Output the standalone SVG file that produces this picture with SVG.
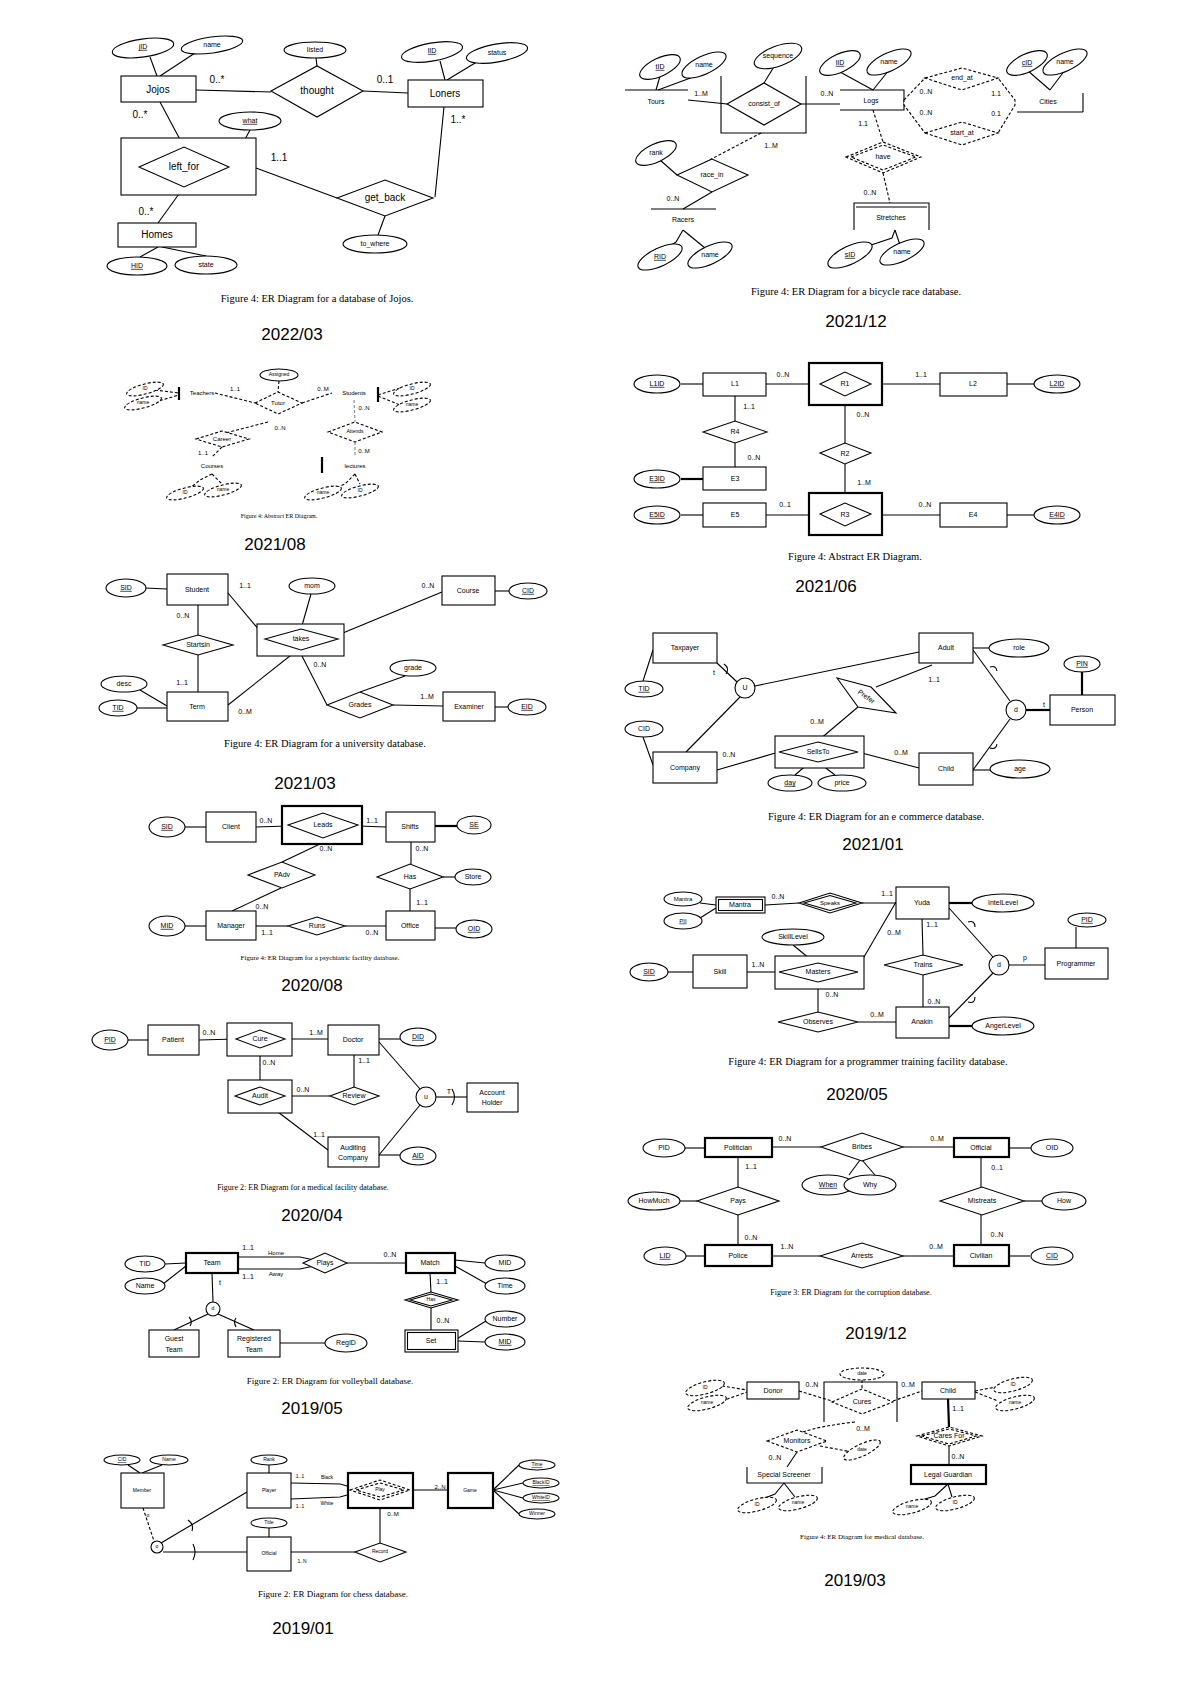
<svg xmlns="http://www.w3.org/2000/svg" width="1200" height="1699" viewBox="0 0 1200 1699">
<style>
rect,ellipse,polygon,circle{fill:#fff;stroke:#000;stroke-width:1.1}
.b{stroke-width:2.2}
.d{stroke-dasharray:3 2}
line,polyline,path{stroke:#000;stroke-width:1.1;fill:none}
text{font-family:"Liberation Sans",Arial,sans-serif;font-size:7px;text-anchor:middle;dominant-baseline:middle;fill:#000}
.m{font-size:10px}
.c{font-family:"Liberation Serif","Times New Roman",serif;font-size:10.5px}
.y{font-size:17px}
.u{text-decoration:underline}
</style>
<rect x="0" y="0" width="1200" height="1699" style="stroke:none"/>

<!-- ===== 2022/03 ===== -->
<g id="conn1">
<line x1="150" y1="57" x2="157" y2="76"/><line x1="195" y1="53" x2="160" y2="76"/>
<line x1="196" y1="90" x2="271" y2="92"/><line x1="363" y1="91" x2="408" y2="93"/>
<line x1="316" y1="58" x2="317" y2="66"/>
<line x1="440" y1="61" x2="445" y2="80"/><line x1="480" y1="60" x2="447" y2="80"/>
<line x1="160" y1="102" x2="184" y2="147"/><line x1="250" y1="130" x2="230" y2="167"/>
<line x1="184" y1="187" x2="158" y2="223"/>
<line x1="158" y1="247" x2="140" y2="257"/><line x1="162" y1="247" x2="206" y2="256"/>
<line x1="256" y1="168" x2="337" y2="198"/><line x1="444" y1="107" x2="435" y2="197"/>
<line x1="385" y1="216" x2="378" y2="235"/>
</g>
<g id="jojos"><rect x="121" y="76" width="75" height="26"/><text class="m" x="158" y="90">Jojos</text></g>
<g id="jid"><ellipse cx="143" cy="48" rx="31" ry="9" transform="rotate(-8 143 48)"/><text class="u" x="143" y="47">jID</text></g>
<g id="jname"><ellipse cx="212" cy="45" rx="31" ry="8" transform="rotate(-8 212 45)"/><text x="212" y="45">name</text></g>
<g id="thought"><polygon points="271,91 317,66 363,91 317,117"/><text class="m" x="317" y="91">thought</text></g>
<g id="listed"><ellipse cx="315" cy="50" rx="31" ry="8"/><text x="315" y="50">listed</text></g>
<g id="loners"><rect x="408" y="80" width="75" height="27"/><text class="m" x="445" y="94">Loners</text></g>
<g id="lid"><ellipse cx="432" cy="52" rx="31" ry="9" transform="rotate(-10 432 52)"/><text class="u" x="432" y="51">lID</text></g>
<g id="lstatus"><ellipse cx="497" cy="53" rx="31" ry="9" transform="rotate(-10 497 53)"/><text x="497" y="53">status</text></g>
<g id="leftfor"><rect x="121" y="138" width="135" height="57"/><polygon points="139,167 184,147 229,167 184,187"/><text class="m" x="184" y="167">left_for</text></g>
<g id="what"><ellipse cx="250" cy="121" rx="31" ry="9"/><text class="u" x="250" y="121">what</text></g>
<g id="homes"><rect x="118" y="223" width="78" height="24"/><text class="m" x="157" y="235">Homes</text></g>
<g id="hid"><ellipse cx="137" cy="266" rx="30" ry="9"/><text class="u" x="137" y="266">HID</text></g>
<g id="hstate"><ellipse cx="206" cy="265" rx="31" ry="9"/><text x="206" y="265">state</text></g>
<g id="getback"><polygon points="337,198 385,180 433,198 385,216"/><text class="m" x="385" y="198">get_back</text></g>
<g id="towhere"><ellipse cx="375" cy="244" rx="32" ry="9"/><text x="375" y="244">to_where</text></g>
<text class="m" x="217" y="80">0..*</text><text class="m" x="385" y="80">0..1</text>
<text class="m" x="140" y="115">0..*</text><text class="m" x="279" y="158">1..1</text>
<text class="m" x="146" y="212">0..*</text><text class="m" x="458" y="120">1..*</text>
<text class="c" x="317" y="300">Figure 4: ER Diagram for a database of Jojos.</text>
<text class="y" x="292" y="336">2022/03</text>

<!-- ===== 2021/12 ===== -->
<g id="conn2">
<line x1="625" y1="90" x2="688" y2="90"/>
<line x1="688" y1="100" x2="727" y2="104"/><line x1="801" y1="104" x2="840" y2="104"/>
<line x1="775" y1="65" x2="764" y2="83"/>
<line x1="660" y1="76" x2="656" y2="90"/><line x1="704" y1="73" x2="658" y2="90"/>
<line x1="840" y1="72" x2="873" y2="90"/><line x1="889" y1="70" x2="873" y2="90"/>
<line x1="1027" y1="70" x2="1050" y2="90"/><line x1="1065" y1="70" x2="1050" y2="90"/>
<line x1="761" y1="133" x2="700" y2="165" class="d"/>
<line x1="660" y1="160" x2="677" y2="175"/>
<line x1="712" y1="192" x2="683" y2="209"/>
<line x1="651" y1="209" x2="716" y2="209"/>
<polyline points="683,230 676,242 660,252"/><line x1="683" y1="230" x2="705" y2="248"/>
<line x1="873" y1="110" x2="883" y2="142" class="d"/><line x1="883" y1="173" x2="890" y2="203" class="d"/>
<polyline points="895,230 892,238 856,250"/><line x1="895" y1="230" x2="900" y2="245"/>
<line x1="1017" y1="112" x2="1083" y2="112"/><line x1="1083" y1="93" x2="1083" y2="112"/>
</g>
<g id="tours"><text x="656" y="102">Tours</text></g>
<g id="tid2"><ellipse cx="660" cy="67" rx="22" ry="9" transform="rotate(-25 660 67)"/><text class="u" x="660" y="67">tID</text></g>
<g id="tname"><ellipse cx="704" cy="65" rx="24" ry="9" transform="rotate(-25 704 65)"/><text x="704" y="65">name</text></g>
<g id="consistof"><path d="M721,76 V133 H806 V76"/><polygon points="727,104 764,83 801,104 764,125"/><text x="764" y="104">consist_of</text></g>
<g id="sequence"><ellipse cx="778" cy="56" rx="25" ry="10" transform="rotate(-20 778 56)"/><text x="778" y="56">sequence</text></g>
<g id="logs"><path d="M840,90 H904 V110 H840"/><text x="871" y="101">Logs</text></g>
<g id="logid"><ellipse cx="840" cy="63" rx="22" ry="9" transform="rotate(-25 840 63)"/><text class="u" x="840" y="63">lID</text></g>
<g id="logname"><ellipse cx="889" cy="62" rx="24" ry="9" transform="rotate(-25 889 62)"/><text x="889" y="62">name</text></g>
<g id="endstart" class="d"><polygon class="d" points="904,100 925,78 998,78 1015,100 1015,105 998,133 925,133 904,105"/><polygon class="d" points="925,78 962,68 998,78 962,90"/><polygon class="d" points="925,133 962,122 998,133 962,145"/><text x="962" y="78">end_at</text><text x="962" y="133">start_at</text></g>
<g id="cities"><text x="1048" y="102">Cities</text></g>
<g id="cid2"><ellipse cx="1027" cy="63" rx="22" ry="9" transform="rotate(-25 1027 63)"/><text class="u" x="1027" y="63">cID</text></g>
<g id="cname"><ellipse cx="1065" cy="62" rx="24" ry="9" transform="rotate(-25 1065 62)"/><text x="1065" y="62">name</text></g>
<g id="racein"><polygon points="677,175 712,159 748,175 712,192"/><text x="712" y="175">race_in</text></g>
<g id="rank"><ellipse cx="656" cy="153" rx="22" ry="9" transform="rotate(-25 656 153)"/><text x="656" y="153">rank</text></g>
<g id="racers"><text x="683" y="220">Racers</text></g>
<g id="rid"><ellipse cx="660" cy="257" rx="24" ry="9" transform="rotate(-25 660 257)"/><text class="u" x="660" y="257">RID</text></g>
<g id="rname"><ellipse cx="710" cy="255" rx="24" ry="9" transform="rotate(-25 710 255)"/><text x="710" y="255">name</text></g>
<g id="have"><polygon class="d" points="846,157 883,142 921,157 883,173"/><polygon class="d" points="851,157 883,145 916,157 883,170"/><text x="883" y="157">have</text></g>
<g id="stretches"><path d="M854,230 V203 H929 V230 M856,207 H927"/><text x="891" y="218">Stretches</text></g>
<g id="sid2"><ellipse cx="850" cy="255" rx="24" ry="9" transform="rotate(-25 850 255)"/><text class="u" x="850" y="255">sID</text></g>
<g id="sname"><ellipse cx="902" cy="252" rx="24" ry="9" transform="rotate(-25 902 252)"/><text x="902" y="252">name</text></g>
<text x="701" y="94">1..M</text><text x="827" y="94">0..N</text><text x="926" y="92">0..N</text><text x="926" y="113">0..N</text>
<text x="996" y="94">1.1</text><text x="996" y="114">0.1</text><text x="771" y="146">1..M</text><text x="863" y="124">1.1</text>
<text x="673" y="199">0..N</text><text x="870" y="193">0..N</text>
<text class="c" x="856" y="293">Figure 4: ER Diagram for a bicycle race database.</text>
<text class="y" x="856" y="323">2021/12</text>

<!-- ===== 2021/08 ===== -->
<g id="conn3" class="d">
<line class="d" x1="155" y1="390" x2="179" y2="393"/><line class="d" x1="155" y1="402" x2="179" y2="395"/>
<line class="d" x1="215" y1="393" x2="255" y2="403"/><line class="d" x1="302" y1="403" x2="332" y2="393"/>
<line x1="279" y1="381" x2="278" y2="392"/>
<line x1="378" y1="395" x2="400" y2="388"/><line x1="378" y1="396" x2="400" y2="405"/>
<line x1="354" y1="400" x2="355" y2="422" style="stroke:#888"/><line x1="355" y1="442" x2="355" y2="455" style="stroke:#888"/>
<line class="d" x1="268" y1="422" x2="222" y2="434"/><line x1="222" y1="447" x2="212" y2="457"/>
<polyline points="212,474 200,480 190,488"/><line x1="212" y1="474" x2="222" y2="484"/>
<polyline points="355,474 345,484 330,490"/><line x1="355" y1="474" x2="360" y2="484"/>
</g>
<line x1="179" y1="387" x2="179" y2="400" class="b"/><line x1="378" y1="387" x2="378" y2="402" class="b"/><line x1="322" y1="457" x2="322" y2="473" class="b"/>
<g id="teachers"><text x="202" y="393" style="font-size:6px">Teachers</text></g>
<g id="t8a"><ellipse class="d" cx="145" cy="389" rx="19" ry="5" transform="rotate(-15 145 389)"/><text x="145" y="389" style="font-size:5px">ID</text></g>
<g id="t8b"><ellipse class="d" cx="143" cy="403" rx="19" ry="5" transform="rotate(-15 143 403)"/><text x="143" y="403" style="font-size:5px">name</text></g>
<g id="tutor"><polygon class="d" points="255,403 278,392 302,403 278,414"/><text x="278" y="403" style="font-size:6px">Tutor</text></g>
<g id="assigned"><ellipse cx="279" cy="375" rx="19" ry="6"/><text x="279" y="375" style="font-size:5px">Assigned</text></g>
<g id="students"><text x="354" y="393" style="font-size:6px">Students</text></g>
<g id="s8a"><ellipse class="d" cx="412" cy="389" rx="19" ry="5" transform="rotate(-15 412 389)"/><text x="412" y="389" style="font-size:5px">ID</text></g>
<g id="s8b"><ellipse class="d" cx="412" cy="405" rx="19" ry="5" transform="rotate(-15 412 405)"/><text x="412" y="405" style="font-size:5px">name</text></g>
<g id="attends"><polygon class="d" points="328,432 355,422 382,432 355,442"/><text x="355" y="432" style="font-size:5px">Attends</text></g>
<g id="lectures8"><text x="355" y="466" style="font-size:6px">lectures</text></g>
<g id="l8a"><ellipse class="d" cx="323" cy="493" rx="19" ry="5" transform="rotate(-15 323 493)"/><text x="323" y="493" style="font-size:5px">name</text></g>
<g id="l8b"><ellipse class="d" cx="360" cy="491" rx="19" ry="5" transform="rotate(-15 360 491)"/><text x="360" y="491" style="font-size:5px">ID</text></g>
<g id="career"><polygon class="d" points="196,439 222,431 249,439 222,447"/><text x="222" y="439" style="font-size:6px">Career</text></g>
<g id="courses8"><text x="212" y="466" style="font-size:6px">Courses</text></g>
<g id="c8a"><ellipse class="d" cx="185" cy="493" rx="19" ry="5" transform="rotate(-15 185 493)"/><text x="185" y="493" style="font-size:5px">ID</text></g>
<g id="c8b"><ellipse class="d" cx="223" cy="490" rx="19" ry="5" transform="rotate(-15 223 490)"/><text x="223" y="490" style="font-size:5px">name</text></g>
<g style="font-size:6px"><text x="235" y="389" style="font-size:6px">1..1</text><text x="323" y="389" style="font-size:6px">0..M</text><text x="364" y="408" style="font-size:6px">0..N</text><text x="364" y="451" style="font-size:6px">0..M</text><text x="280" y="428" style="font-size:6px">0..N</text><text x="203" y="453" style="font-size:6px">1..1</text></g>
<text class="c" x="279" y="517" style="font-size:6px">Figure 4: Abstract ER Diagram.</text>
<text class="y" x="275" y="546">2021/08</text>

<!-- ===== 2021/03 ===== -->
<g id="conn4">
<line x1="145" y1="588" x2="167" y2="589"/><line x1="228" y1="593" x2="265" y2="637"/>
<line x1="311" y1="594" x2="301" y2="629"/><line x1="442" y1="592" x2="338" y2="635"/>
<line x1="495" y1="591" x2="509" y2="591"/>
<line x1="198" y1="605" x2="198" y2="635"/><line x1="198" y1="655" x2="198" y2="692"/>
<line x1="140" y1="690" x2="167" y2="706"/><line x1="137" y1="708" x2="167" y2="708"/>
<line x1="228" y1="705" x2="300" y2="648"/><line x1="302" y1="656" x2="327" y2="705"/>
<line x1="360" y1="692" x2="405" y2="676"/><line x1="393" y1="705" x2="443" y2="706"/><line x1="495" y1="707" x2="508" y2="707"/>
</g>
<g id="student"><rect x="167" y="574" width="61" height="31"/><text x="197" y="590">Student</text></g>
<g id="sid4"><ellipse cx="126" cy="588" rx="20" ry="9"/><text class="u" x="126" y="588">SID</text></g>
<g id="takes"><rect x="257" y="624" width="87" height="32"/><polygon points="265,639 301,629 338,639 301,650"/><text x="301" y="639">takes</text></g>
<g id="mom"><ellipse cx="312" cy="586" rx="23" ry="8"/><text x="312" y="586">mom</text></g>
<g id="course"><rect x="442" y="576" width="53" height="29"/><text x="468" y="591">Course</text></g>
<g id="cid4"><ellipse cx="528" cy="591" rx="19" ry="8"/><text class="u" x="528" y="591">CID</text></g>
<g id="startsin"><polygon points="163,645 198,635 233,645 198,655"/><text x="198" y="645">Startsin</text></g>
<g id="term"><rect x="167" y="692" width="61" height="29"/><text x="197" y="707">Term</text></g>
<g id="desc"><ellipse cx="124" cy="684" rx="23" ry="8"/><text x="124" y="684">desc</text></g>
<g id="tid4"><ellipse cx="118" cy="708" rx="19" ry="8"/><text class="u" x="118" y="708">TID</text></g>
<g id="grades"><polygon points="327,705 360,692 393,705 360,718"/><text x="360" y="705">Grades</text></g>
<g id="grade"><ellipse cx="413" cy="668" rx="23" ry="8"/><text x="413" y="668">grade</text></g>
<g id="examiner"><rect x="443" y="692" width="52" height="29"/><text x="469" y="707">Examiner</text></g>
<g id="eid4"><ellipse cx="527" cy="707" rx="19" ry="8"/><text class="u" x="527" y="707">EID</text></g>
<text x="245" y="586">1..1</text><text x="428" y="586">0..N</text><text x="183" y="616">0..N</text><text x="182" y="683">1..1</text><text x="245" y="712">0..M</text><text x="320" y="665">0..N</text><text x="427" y="697">1..M</text>
<text class="c" x="325" y="745">Figure 4: ER Diagram for a university database.</text>
<text class="y" x="305" y="785">2021/03</text>

<!-- ===== 2021/06 ===== -->
<g id="conn5">
<line x1="681" y1="384" x2="703" y2="384"/><line x1="766" y1="384" x2="820" y2="384"/><line x1="871" y1="384" x2="940" y2="384"/><line x1="1007" y1="384" x2="1034" y2="384"/>
<line x1="735" y1="396" x2="735" y2="421"/><line x1="735" y1="443" x2="735" y2="467"/>
<line x1="681" y1="479" x2="703" y2="479" class="b"/>
<line x1="845" y1="405" x2="845" y2="443"/><line x1="845" y1="464" x2="845" y2="493"/>
<line x1="681" y1="515" x2="703" y2="515"/><line x1="766" y1="515" x2="820" y2="515"/><line x1="871" y1="515" x2="940" y2="515"/><line x1="1007" y1="515" x2="1034" y2="515"/>
</g>
<g id="l1id"><ellipse cx="657" cy="384" rx="23" ry="9"/><text class="u" x="657" y="384">L1ID</text></g>
<g id="l1"><rect x="703" y="373" width="63" height="23"/><text x="735" y="384">L1</text></g>
<g id="r1"><rect class="b" x="809" y="363" width="73" height="42"/><polygon points="820,384 845,372 871,384 845,396"/><text x="845" y="384">R1</text></g>
<g id="l2"><rect x="940" y="373" width="67" height="23"/><text x="973" y="384">L2</text></g>
<g id="l2id"><ellipse cx="1057" cy="384" rx="23" ry="9"/><text class="u" x="1057" y="384">L2ID</text></g>
<g id="r4"><polygon points="703,432 735,421 767,432 735,443"/><text x="735" y="432">R4</text></g>
<g id="e3"><rect x="703" y="467" width="63" height="23"/><text x="735" y="479">E3</text></g>
<g id="e3id"><ellipse cx="657" cy="479" rx="23" ry="9"/><text class="u" x="657" y="479">E3ID</text></g>
<g id="r2"><polygon points="820,453 845,443 871,453 845,464"/><text x="845" y="454">R2</text></g>
<g id="r3"><rect class="b" x="809" y="493" width="73" height="42"/><polygon points="820,514 845,503 871,514 845,526"/><text x="845" y="515">R3</text></g>
<g id="e5"><rect x="703" y="503" width="63" height="24"/><text x="735" y="515">E5</text></g>
<g id="e5id"><ellipse cx="657" cy="515" rx="23" ry="9"/><text class="u" x="657" y="515">E5ID</text></g>
<g id="e4"><rect x="940" y="503" width="67" height="24"/><text x="973" y="515">E4</text></g>
<g id="e4id"><ellipse cx="1057" cy="515" rx="23" ry="9"/><text class="u" x="1057" y="515">E4ID</text></g>
<text x="783" y="375">0..N</text><text x="921" y="375">1..1</text><text x="749" y="407">1..1</text><text x="754" y="458">0..N</text><text x="863" y="415">0..N</text><text x="864" y="483">1..M</text><text x="785" y="505">0..1</text><text x="925" y="505">0..N</text>
<text class="c" x="855" y="558">Figure 4: Abstract ER Diagram.</text>
<text class="y" x="826" y="588">2021/06</text>

<!-- ===== 2021/01 ===== -->
<g id="conn6">
<line x1="653" y1="650" x2="643" y2="681"/><line x1="717" y1="663" x2="737" y2="682"/><path d="M724,664 q6,4 2,10"/>
<line x1="755" y1="686" x2="919" y2="652"/><line x1="740" y1="697" x2="686" y2="752"/>
<line x1="643" y1="737" x2="653" y2="765"/><line x1="973" y1="648" x2="989" y2="648"/>
<line x1="876" y1="687" x2="932" y2="665"/><line x1="858" y1="707" x2="819" y2="740"/>
<line x1="717" y1="770" x2="779" y2="752"/><line x1="858" y1="752" x2="919" y2="768"/>
<line x1="973" y1="770" x2="990" y2="770"/>
<line x1="810" y1="762" x2="795" y2="775"/><line x1="818" y1="762" x2="835" y2="775"/>
<line x1="973" y1="650" x2="1010" y2="701"/><path d="M990,667 q6,-2 7,4"/><line x1="973" y1="770" x2="1010" y2="719"/><path d="M990,748 q6,2 7,-4"/>
<line x1="1026" y1="710" x2="1050" y2="710" class="b"/><line x1="1082" y1="672" x2="1082" y2="695" class="b"/>
</g>
<g id="taxpayer"><rect x="653" y="633" width="64" height="30"/><text x="685" y="648">Taxpayer</text></g>
<g id="tid6"><ellipse cx="644" cy="689" rx="19" ry="8"/><text class="u" x="644" y="689">TID</text></g>
<g id="u6"><circle cx="745" cy="688" r="10"/><text x="745" y="688">U</text></g>
<g id="adult"><rect x="919" y="633" width="54" height="30"/><text x="946" y="648">Adult</text></g>
<g id="role"><ellipse cx="1019" cy="648" rx="30" ry="9"/><text x="1019" y="648">role</text></g>
<g id="company"><rect x="653" y="752" width="64" height="31"/><text x="685" y="768">Company</text></g>
<g id="cid6"><ellipse cx="644" cy="729" rx="19" ry="8"/><text x="644" y="729">CID</text></g>
<g id="prefer"><polygon points="837,678 871,687 896,713 858,707"/><text x="866" y="697" transform="rotate(35 866 697)">Prefer</text></g>
<g id="sellsto"><rect x="775" y="736" width="89" height="32"/><polygon points="779,752 818,742 858,752 818,762"/><text x="818" y="752">SellsTo</text></g>
<g id="child"><rect x="919" y="753" width="54" height="32"/><text x="946" y="769">Child</text></g>
<g id="age"><ellipse cx="1020" cy="769" rx="30" ry="9"/><text x="1020" y="769">age</text></g>
<g id="day"><ellipse cx="790" cy="783" rx="22" ry="8"/><text class="u" x="790" y="783">day</text></g>
<g id="price"><ellipse cx="842" cy="783" rx="24" ry="8"/><text x="842" y="783">price</text></g>
<g id="d6"><circle cx="1016" cy="710" r="10"/><text x="1016" y="710">d</text></g>
<g id="person"><rect x="1050" y="695" width="65" height="30"/><text x="1082" y="710">Person</text></g>
<g id="pin"><ellipse cx="1082" cy="664" rx="18" ry="8"/><text class="u" x="1082" y="664">PIN</text></g>
<text x="714" y="673">t</text><text x="934" y="680">1..1</text><text x="817" y="722">0..M</text><text x="729" y="755">0..N</text><text x="901" y="753">0..M</text><text x="1044" y="705">t</text>
<text class="c" x="876" y="818">Figure 4: ER Diagram for an e commerce database.</text>
<text class="y" x="873" y="846">2021/01</text>

<!-- ===== 2020/08 ===== -->
<g id="conn7">
<line x1="185" y1="827" x2="206" y2="827"/><line x1="256" y1="827" x2="288" y2="826"/><line x1="358" y1="826" x2="386" y2="827"/>
<line x1="435" y1="826" x2="457" y2="826" class="b"/>
<line x1="320" y1="844" x2="282" y2="862"/><line x1="281" y1="888" x2="232" y2="911"/>
<line x1="411" y1="842" x2="411" y2="864"/><line x1="410" y1="889" x2="410" y2="911"/><line x1="443" y1="877" x2="455" y2="877"/>
<line x1="185" y1="926" x2="206" y2="926"/><line x1="256" y1="926" x2="288" y2="926"/><line x1="345" y1="926" x2="386" y2="926"/><line x1="435" y1="928" x2="456" y2="928"/>
</g>
<g id="sid7"><ellipse cx="167" cy="827" rx="18" ry="10"/><text class="u" x="167" y="827">SID</text></g>
<g id="client"><rect x="206" y="812" width="50" height="30"/><text x="231" y="827">Client</text></g>
<g id="leads"><rect class="b" x="282" y="806" width="80" height="38"/><polygon points="288,825 323,813 358,825 323,838"/><text x="323" y="825">Leads</text></g>
<g id="shifts"><rect x="386" y="812" width="49" height="30"/><text x="410" y="827">Shifts</text></g>
<g id="se"><ellipse cx="474" cy="825" rx="17" ry="9"/><text class="u" x="474" y="825">SE</text></g>
<g id="padv"><polygon points="248,875 282,862 315,875 282,888"/><text x="282" y="875">PAdv</text></g>
<g id="has7"><polygon points="377,877 410,864 443,877 410,889"/><text x="410" y="877">Has</text></g>
<g id="store"><ellipse cx="473" cy="877" rx="18" ry="8"/><text x="473" y="877">Store</text></g>
<g id="manager"><rect x="206" y="911" width="50" height="29"/><text x="231" y="926">Manager</text></g>
<g id="mid7"><ellipse cx="167" cy="926" rx="18" ry="10"/><text class="u" x="167" y="926">MID</text></g>
<g id="runs"><polygon points="288,926 317,917 345,926 317,935"/><text x="317" y="926">Runs</text></g>
<g id="office"><rect x="386" y="911" width="49" height="29"/><text x="410" y="926">Office</text></g>
<g id="oid7"><ellipse cx="474" cy="929" rx="18" ry="9"/><text class="u" x="474" y="929">OID</text></g>
<text x="266" y="821">0..N</text><text x="372" y="821">1..1</text><text x="326" y="849">0..N</text><text x="422" y="849">0..N</text><text x="262" y="907">0..N</text><text x="422" y="903">1..1</text><text x="267" y="933">1..1</text><text x="372" y="933">0..N</text>
<text class="c" x="320" y="958" style="font-size:7px">Figure 4: ER Diagram for a psychiatric facility database.</text>
<text class="y" x="312" y="987">2020/08</text>

<!-- ===== 2020/04 ===== -->
<g id="conn8">
<line x1="128" y1="1040" x2="148" y2="1040"/><line x1="199" y1="1040" x2="236" y2="1039"/><line x1="285" y1="1039" x2="328" y2="1039"/><line x1="379" y1="1039" x2="400" y2="1039"/>
<line x1="260" y1="1056" x2="260" y2="1088"/><line x1="292" y1="1096" x2="330" y2="1096"/><line x1="354" y1="1055" x2="354" y2="1087"/>
<line x1="270" y1="1106" x2="328" y2="1150"/><line x1="379" y1="1155" x2="400" y2="1155"/>
<line x1="379" y1="1042" x2="420" y2="1089"/><line x1="379" y1="1155" x2="420" y2="1105"/>
<line x1="436" y1="1097" x2="467" y2="1097"/><path d="M452,1089 q5,8 0,16"/>
</g>
<g id="pid8"><ellipse cx="110" cy="1040" rx="18" ry="10"/><text class="u" x="110" y="1040">PID</text></g>
<g id="patient"><rect x="148" y="1025" width="51" height="30"/><text x="173" y="1040">Patient</text></g>
<g id="cure"><rect x="227" y="1023" width="65" height="33"/><polygon points="236,1039 260,1030 285,1039 260,1048"/><text x="260" y="1039">Cure</text></g>
<g id="doctor"><rect x="328" y="1025" width="51" height="30"/><text x="353" y="1040">Doctor</text></g>
<g id="did8"><ellipse cx="418" cy="1037" rx="18" ry="9"/><text class="u" x="418" y="1037">DID</text></g>
<g id="audit"><rect x="228" y="1080" width="64" height="33"/><polygon points="235,1096 260,1087 285,1096 260,1105"/><text x="260" y="1096">Audit</text></g>
<g id="review"><polygon points="330,1096 354,1087 379,1096 354,1105"/><text x="354" y="1096">Review</text></g>
<g id="audco"><rect x="328" y="1137" width="51" height="30"/><text x="353" y="1148">Auditing</text><text x="353" y="1158">Company</text></g>
<g id="aid8"><ellipse cx="418" cy="1156" rx="18" ry="9"/><text class="u" x="418" y="1156">AID</text></g>
<g id="u8"><circle cx="426" cy="1097" r="10"/><text x="426" y="1097">u</text></g>
<g id="accholder"><rect x="467" y="1083" width="51" height="29"/><text x="492" y="1093">Account</text><text x="492" y="1103">Holder</text></g>
<text x="209" y="1033">0..N</text><text x="316" y="1033">1..M</text><text x="269" y="1063">0..N</text><text x="303" y="1090">0..N</text><text x="364" y="1061">1..1</text><text x="319" y="1135">1..1</text><text x="449" y="1092">T</text>
<text class="c" x="303" y="1188" style="font-size:8px">Figure 2: ER Diagram for a medical facility database.</text>
<text class="y" x="312" y="1217">2020/04</text>

<!-- ===== 2020/05 ===== -->
<g id="conn9">
<line x1="700" y1="903" x2="716" y2="905"/><line x1="700" y1="918" x2="716" y2="908"/>
<line x1="765" y1="905" x2="799" y2="903"/><line x1="862" y1="903" x2="896" y2="903"/><line x1="949" y1="903" x2="972" y2="903" class="b"/>
<line x1="668" y1="972" x2="693" y2="972"/><line x1="747" y1="972" x2="779" y2="972"/>
<line x1="793" y1="945" x2="815" y2="963"/>
<polyline points="855,972 864,957 896,902"/>
<line x1="922" y1="919" x2="923" y2="955"/><line x1="923" y1="975" x2="923" y2="1007"/>
<line x1="818" y1="989" x2="818" y2="1012"/><line x1="858" y1="1022" x2="896" y2="1022"/>
<line x1="949" y1="1026" x2="972" y2="1026" class="b"/>
<line x1="949" y1="908" x2="993" y2="957"/><path d="M968,922 q7,-2 7,5"/><line x1="949" y1="1018" x2="993" y2="973"/><path d="M968,1002 q7,2 7,-5"/>
<line x1="1009" y1="965" x2="1045" y2="965"/><line x1="1076" y1="927" x2="1076" y2="948"/>
</g>
<g id="mantraA"><ellipse cx="683" cy="899" rx="19" ry="7"/><text x="683" y="899" style="font-size:6px">Mantra</text></g>
<g id="pii"><ellipse cx="683" cy="921" rx="19" ry="8"/><text class="u" x="683" y="921" style="font-size:6px">PII</text></g>
<g id="mantra"><rect x="716" y="897" width="49" height="16"/><rect x="718.5" y="899.5" width="44" height="11"/><text x="740" y="905">Mantra</text></g>
<g id="speaks"><polygon points="799,903 830,893 862,903 830,913"/><polygon points="804,903 830,895.5 856,903 830,910.5"/><text x="830" y="903" style="font-size:6px">Speaks</text></g>
<g id="yuda"><rect x="896" y="887" width="53" height="32"/><text x="922" y="903">Yuda</text></g>
<g id="intlevel"><ellipse cx="1003" cy="903" rx="31" ry="9"/><text x="1003" y="903">IntelLevel</text></g>
<g id="skilllevel"><ellipse cx="793" cy="937" rx="31" ry="8"/><text x="793" y="937">SkillLevel</text></g>
<g id="sid9"><ellipse cx="649" cy="972" rx="19" ry="9"/><text class="u" x="649" y="972">SID</text></g>
<g id="skill"><rect x="693" y="955" width="54" height="33"/><text x="720" y="972">Skill</text></g>
<g id="masters"><rect x="775" y="956" width="89" height="33"/><polygon points="779,972 818,963 858,972 818,982"/><text x="818" y="972">Masters</text></g>
<g id="trains"><polygon points="884,965 923,955 963,965 923,975"/><text x="923" y="965">Trains</text></g>
<g id="observes"><polygon points="778,1022 818,1012 858,1022 818,1032"/><text x="818" y="1022">Observes</text></g>
<g id="anakin"><rect x="896" y="1007" width="53" height="31"/><text x="922" y="1022">Anakin</text></g>
<g id="angerlevel"><ellipse cx="1003" cy="1026" rx="31" ry="9"/><text x="1003" y="1026">AngerLevel</text></g>
<g id="d9"><circle cx="999" cy="965" r="10"/><text x="999" y="965">d</text></g>
<g id="programmer"><rect x="1045" y="948" width="63" height="31"/><text x="1076" y="964">Programmer</text></g>
<g id="pid9"><ellipse cx="1087" cy="920" rx="19" ry="7"/><text class="u" x="1087" y="920">PID</text></g>
<text x="778" y="897">0..N</text><text x="887" y="894">1..1</text><text x="758" y="965">1..N</text><text x="894" y="933">0..M</text><text x="932" y="925">1..1</text><text x="934" y="1002">0..N</text><text x="832" y="995">0..N</text><text x="877" y="1015">0..M</text><text x="1025" y="958">p</text>
<text class="c" x="868" y="1063">Figure 4: ER Diagram for a programmer training facility database.</text>
<text class="y" x="857" y="1096">2020/05</text>

<!-- ===== 2019/12 ===== -->
<g id="conn10">
<line x1="685" y1="1148" x2="705" y2="1148"/><line x1="772" y1="1147" x2="821" y2="1147"/><line x1="903" y1="1147" x2="954" y2="1147"/><line x1="1009" y1="1148" x2="1031" y2="1148"/>
<line x1="860" y1="1160" x2="849" y2="1175"/><line x1="862" y1="1160" x2="875" y2="1175"/>
<line x1="738" y1="1157" x2="738" y2="1187"/><line x1="738" y1="1215" x2="738" y2="1245"/><line x1="680" y1="1201" x2="697" y2="1201"/>
<line x1="981" y1="1157" x2="981" y2="1187"/><line x1="981" y1="1215" x2="981" y2="1245"/><line x1="1024" y1="1201" x2="1042" y2="1201"/>
<line x1="686" y1="1256" x2="705" y2="1256"/><line x1="772" y1="1256" x2="820" y2="1256"/><line x1="903" y1="1256" x2="954" y2="1256"/><line x1="1009" y1="1256" x2="1030" y2="1256"/>
</g>
<g id="pid10"><ellipse cx="664" cy="1148" rx="21" ry="9"/><text x="664" y="1148">PID</text></g>
<g id="politician"><rect class="b" x="705" y="1138" width="67" height="19"/><text x="738" y="1148">Politician</text></g>
<g id="bribes"><polygon points="821,1147 862,1133 903,1147 862,1161"/><text x="862" y="1147">Bribes</text></g>
<g id="official10"><rect class="b" x="954" y="1138" width="55" height="19"/><text x="981" y="1148">Official</text></g>
<g id="oid10"><ellipse cx="1052" cy="1148" rx="21" ry="9"/><text x="1052" y="1148">OID</text></g>
<g id="when"><ellipse cx="828" cy="1185" rx="26" ry="10"/><text class="u" x="828" y="1185">When</text></g>
<g id="why"><ellipse cx="870" cy="1185" rx="26" ry="10"/><text x="870" y="1185">Why</text></g>
<g id="pays"><polygon points="697,1201 738,1187 779,1201 738,1215"/><text x="738" y="1201">Pays</text></g>
<g id="howmuch"><ellipse cx="654" cy="1201" rx="26" ry="9"/><text x="654" y="1201">HowMuch</text></g>
<g id="mistreats"><polygon points="940,1201 982,1187 1024,1201 982,1215"/><text x="982" y="1201">Mistreats</text></g>
<g id="how"><ellipse cx="1064" cy="1201" rx="22" ry="9"/><text x="1064" y="1201">How</text></g>
<g id="lid10"><ellipse cx="665" cy="1256" rx="21" ry="9"/><text class="u" x="665" y="1256">LID</text></g>
<g id="police"><rect class="b" x="705" y="1245" width="67" height="21"/><text x="738" y="1256">Police</text></g>
<g id="arrests"><polygon points="820,1256 862,1243 903,1256 862,1268"/><text x="862" y="1256">Arrests</text></g>
<g id="civilian"><rect class="b" x="954" y="1245" width="55" height="21"/><text x="981" y="1256">Civilian</text></g>
<g id="cid10"><ellipse cx="1052" cy="1256" rx="21" ry="9"/><text class="u" x="1052" y="1256">CID</text></g>
<text x="785" y="1139">0..N</text><text x="937" y="1139">0..M</text><text x="751" y="1167">1..1</text><text x="997" y="1168">0..1</text><text x="751" y="1238">0..N</text><text x="997" y="1235">0..N</text><text x="787" y="1247">1..N</text><text x="936" y="1247">0..M</text>
<text class="c" x="851" y="1293" style="font-size:8px">Figure 3: ER Diagram for the corruption database.</text>
<text class="y" x="876" y="1335">2019/12</text>

<!-- ===== 2019/05 ===== -->
<g id="conn11">
<line x1="165" y1="1264" x2="186" y2="1263"/><line x1="163" y1="1284" x2="186" y2="1266"/>
<polyline points="238,1257 300,1257 314,1260"/><polyline points="238,1269 300,1269 314,1266"/>
<line x1="347" y1="1263" x2="406" y2="1263"/>
<line x1="455" y1="1260" x2="485" y2="1263"/><line x1="455" y1="1266" x2="487" y2="1284"/>
<line x1="430" y1="1273" x2="431" y2="1292"/><line x1="431" y1="1308" x2="431" y2="1330"/>
<line x1="455" y1="1340" x2="486" y2="1321"/><line x1="458" y1="1341" x2="485" y2="1342"/>
<line x1="212" y1="1273" x2="213" y2="1302"/>
<line x1="208" y1="1314" x2="174" y2="1330"/><path d="M189,1317 q4,4 1,9"/><line x1="218" y1="1314" x2="254" y2="1330"/><path d="M236,1318 q-3,4 0,9"/>
<line x1="280" y1="1343" x2="325" y2="1343"/>
</g>
<g id="tid11"><ellipse cx="145" cy="1264" rx="20" ry="8"/><text x="145" y="1264">TID</text></g>
<g id="name11"><ellipse cx="145" cy="1286" rx="20" ry="8"/><text x="145" y="1286">Name</text></g>
<g id="team"><rect class="b" x="186" y="1253" width="52" height="20"/><text x="212" y="1263">Team</text></g>
<g id="plays"><polygon points="303,1263 325,1253 347,1263 325,1273"/><text x="325" y="1263">Plays</text></g>
<g id="match"><rect class="b" x="406" y="1253" width="49" height="20"/><text x="430" y="1263">Match</text></g>
<g id="mid11"><ellipse cx="505" cy="1263" rx="20" ry="8"/><text x="505" y="1263">MID</text></g>
<g id="time11"><ellipse cx="505" cy="1286" rx="20" ry="8"/><text x="505" y="1286">Time</text></g>
<g id="has11"><polygon points="405,1300 431,1292 458,1300 431,1308"/><polygon points="410,1300 431,1294 452,1300 431,1306"/><text x="431" y="1300" style="font-size:5px">Has</text></g>
<g id="set11"><rect x="405" y="1330" width="53" height="22"/><rect x="407.5" y="1332.5" width="48" height="17"/><text x="431" y="1341">Set</text></g>
<g id="number"><ellipse cx="505" cy="1319" rx="20" ry="8"/><text x="505" y="1319">Number</text></g>
<g id="mid11b"><ellipse cx="505" cy="1342" rx="20" ry="8"/><text class="u" x="505" y="1342">MID</text></g>
<g id="d11"><circle cx="213" cy="1309" r="7"/><text x="213" y="1309" style="font-size:5px">d</text></g>
<g id="guest"><rect x="149" y="1330" width="50" height="27"/><text x="174" y="1339">Guest</text><text x="174" y="1350">Team</text></g>
<g id="registered"><rect x="228" y="1330" width="52" height="27"/><text x="254" y="1339">Registered</text><text x="254" y="1350">Team</text></g>
<g id="regid"><ellipse cx="346" cy="1343" rx="21" ry="9"/><text x="346" y="1343">RegID</text></g>
<text x="248" y="1248">1..1</text><text x="276" y="1253" style="font-size:6px">Home</text><text x="248" y="1277">1..1</text><text x="276" y="1274" style="font-size:6px">Away</text><text x="390" y="1255">0..N</text><text x="442" y="1282">1..1</text><text x="443" y="1321">0..N</text><text x="220" y="1283">t</text>
<text class="c" x="330" y="1382" style="font-size:9px">Figure 2: ER Diagram for volleyball database.</text>
<text class="y" x="312" y="1410">2019/05</text>

<!-- ===== 2019/01 ===== -->
<g id="conn12">
<line x1="128" y1="1465" x2="140" y2="1473"/><line x1="162" y1="1465" x2="142" y2="1473"/>
<line x1="269" y1="1465" x2="269" y2="1473"/><line x1="269" y1="1528" x2="269" y2="1537"/>
<polyline points="291,1483 340,1484 358,1489"/><polyline points="291,1499 340,1497 358,1492"/>
<line x1="413" y1="1490" x2="448" y2="1490"/>
<line x1="493" y1="1490" x2="519" y2="1465"/><line x1="493" y1="1490" x2="523" y2="1483"/><line x1="493" y1="1490" x2="523" y2="1498"/><line x1="493" y1="1490" x2="519" y2="1514"/>
<line x1="380" y1="1508" x2="380" y2="1543"/>
<line x1="291" y1="1552" x2="355" y2="1552"/>
<line x1="143" y1="1508" x2="154" y2="1541" class="d"/>
<line x1="161" y1="1543" x2="247" y2="1492"/><path d="M188,1520 q6,4 4,11"/>
<line x1="163" y1="1552" x2="247" y2="1552"/><path d="M193,1544 q4,8 0,16"/>
</g>
<g id="cid12"><ellipse cx="122" cy="1460" rx="18" ry="5"/><text class="u" x="122" y="1460" style="font-size:5px">CID</text></g>
<g id="name12"><ellipse cx="169" cy="1460" rx="19" ry="5"/><text x="169" y="1460" style="font-size:5px">Name</text></g>
<g id="member"><rect x="121" y="1473" width="43" height="35"/><text x="142" y="1491" style="font-size:5px">Member</text></g>
<g id="rank12"><ellipse cx="269" cy="1460" rx="18" ry="5"/><text x="269" y="1460" style="font-size:5px">Rank</text></g>
<g id="player"><rect x="247" y="1473" width="44" height="35"/><text x="269" y="1491" style="font-size:5px">Player</text></g>
<g id="play"><rect class="b" x="348" y="1473" width="65" height="35"/><polygon class="d" points="350,1490 380,1480 410,1490 380,1500"/><polygon class="d" points="356,1490 380,1483 404,1490 380,1497"/><text x="380" y="1490" style="font-size:5px">Play</text></g>
<g id="game"><rect class="b" x="448" y="1473" width="45" height="35"/><text x="470" y="1491" style="font-size:5px">Game</text></g>
<g id="g1"><ellipse cx="537" cy="1465" rx="18" ry="5"/><text class="u" x="537" y="1465" style="font-size:5px">Time</text></g>
<g id="g2"><ellipse cx="541" cy="1483" rx="18" ry="5"/><text class="u" x="541" y="1483" style="font-size:5px">BlackID</text></g>
<g id="g3"><ellipse cx="541" cy="1498" rx="18" ry="5"/><text class="u" x="541" y="1498" style="font-size:5px">WhiteID</text></g>
<g id="g4"><ellipse cx="537" cy="1514" rx="18" ry="5"/><text x="537" y="1514" style="font-size:5px">Winner</text></g>
<g id="record"><polygon points="355,1552 380,1543 406,1552 380,1562"/><text x="380" y="1552" style="font-size:5px">Record</text></g>
<g id="official12"><rect x="247" y="1537" width="44" height="34"/><text x="269" y="1554" style="font-size:5px">Official</text></g>
<g id="title12"><ellipse cx="269" cy="1523" rx="18" ry="5"/><text x="269" y="1523" style="font-size:5px">Title</text></g>
<g id="c12"><circle cx="157" cy="1547" r="6"/><text x="157" y="1547" style="font-size:5px">o</text></g>
<g style="font-size:5px"><text x="300" y="1477" style="font-size:5px">1..1</text><text x="327" y="1478" style="font-size:5px">Black</text><text x="300" y="1507" style="font-size:5px">1..1</text><text x="327" y="1504" style="font-size:5px">White</text><text x="440" y="1487" style="font-size:6px">2..N</text><text x="393" y="1514" style="font-size:6px">0..M</text><text x="302" y="1562" style="font-size:5px">1..N</text><text x="148" y="1516" style="font-size:5px">o</text></g>
<text class="c" x="333" y="1595" style="font-size:9px">Figure 2: ER Diagram for chess database.</text>
<text class="y" x="303" y="1630">2019/01</text>

<!-- ===== 2019/03 ===== -->
<g id="conn13" >
<line class="d" x1="722" y1="1386" x2="747" y2="1390"/><line class="d" x1="722" y1="1401" x2="747" y2="1392"/>
<line class="d" x1="799" y1="1391" x2="832" y2="1401"/><line class="d" x1="893" y1="1401" x2="922" y2="1391"/>
<line class="d" x1="862" y1="1380" x2="862" y2="1389"/>
<line class="d" x1="975" y1="1391" x2="996" y2="1387"/><line class="d" x1="975" y1="1392" x2="998" y2="1401"/>
<line x1="948" y1="1399" x2="949" y2="1427" class="b"/><line x1="949" y1="1446" x2="949" y2="1465"/>
<path class="d" d="M855,1422 Q820,1426 803,1432"/>
<line class="d" x1="820" y1="1446" x2="852" y2="1452"/>
<line x1="797" y1="1452" x2="787" y2="1467"/>
<polyline points="784,1483 775,1494 760,1500"/><line x1="784" y1="1483" x2="795" y2="1497"/>
<polyline points="948,1484 935,1496 915,1502"/><line x1="948" y1="1484" x2="952" y2="1497"/>
</g>
<g id="donor"><rect x="747" y="1382" width="52" height="17"/><text x="773" y="1391">Donor</text></g>
<g id="do1"><ellipse class="d" cx="705" cy="1388" rx="20" ry="6" transform="rotate(-15 705 1388)"/><text x="705" y="1388" style="font-size:5px">ID</text></g>
<g id="do2"><ellipse class="d" cx="707" cy="1403" rx="20" ry="6" transform="rotate(-15 707 1403)"/><text x="707" y="1403" style="font-size:5px">name</text></g>
<g id="cures"><path d="M824,1422 V1382 H897 V1422"/><polygon class="d" points="832,1402 862,1389 893,1402 862,1414"/><text x="862" y="1402">Cures</text></g>
<g id="cureattr"><ellipse class="d" cx="862" cy="1374" rx="22" ry="6"/><text x="862" y="1374" style="font-size:5px">date</text></g>
<g id="child13"><rect x="922" y="1382" width="53" height="17"/><text x="948" y="1391">Child</text></g>
<g id="ch1"><ellipse class="d" cx="1013" cy="1385" rx="20" ry="6" transform="rotate(-15 1013 1385)"/><text x="1013" y="1385" style="font-size:5px">ID</text></g>
<g id="ch2"><ellipse class="d" cx="1015" cy="1403" rx="20" ry="6" transform="rotate(-15 1015 1403)"/><text x="1015" y="1403" style="font-size:5px">name</text></g>
<g id="caresfor"><polygon class="d" points="917,1436 949,1427 982,1436 949,1446"/><polygon class="d" points="922,1436 949,1429 976,1436 949,1444"/><text x="949" y="1436">Cares For</text></g>
<g id="guardian"><rect class="b" x="911" y="1465" width="75" height="19"/><text x="948" y="1475">Legal Guardian</text></g>
<g id="monitors"><polygon class="d" points="767,1441 797,1430 827,1441 797,1452"/><text x="797" y="1441">Monitors</text></g>
<g id="monattr"><ellipse class="d" cx="862" cy="1450" rx="20" ry="6" transform="rotate(-25 862 1450)"/><text x="862" y="1450" style="font-size:5px">date</text></g>
<g id="screener"><path d="M747,1467 V1483 H822 V1467"/><text x="784" y="1475">Special Screener</text></g>
<g id="sc1"><ellipse class="d" cx="757" cy="1505" rx="20" ry="6" transform="rotate(-15 757 1505)"/><text x="757" y="1505" style="font-size:5px">ID</text></g>
<g id="sc2"><ellipse class="d" cx="798" cy="1503" rx="20" ry="6" transform="rotate(-15 798 1503)"/><text x="798" y="1503" style="font-size:5px">name</text></g>
<g id="lg1"><ellipse class="d" cx="912" cy="1507" rx="20" ry="6" transform="rotate(-15 912 1507)"/><text x="912" y="1507" style="font-size:5px">name</text></g>
<g id="lg2"><ellipse class="d" cx="955" cy="1503" rx="20" ry="6" transform="rotate(-15 955 1503)"/><text x="955" y="1503" style="font-size:5px">ID</text></g>
<text x="812" y="1385">0..N</text><text x="908" y="1385">0..M</text><text x="958" y="1409">1..1</text><text x="958" y="1457">0..N</text><text x="863" y="1429">0..M</text><text x="775" y="1458">0..N</text>
<text class="c" x="862" y="1537" style="font-size:7px">Figure 4: ER Diagram for medical database.</text>
<text class="y" x="855" y="1582">2019/03</text>
</svg>
